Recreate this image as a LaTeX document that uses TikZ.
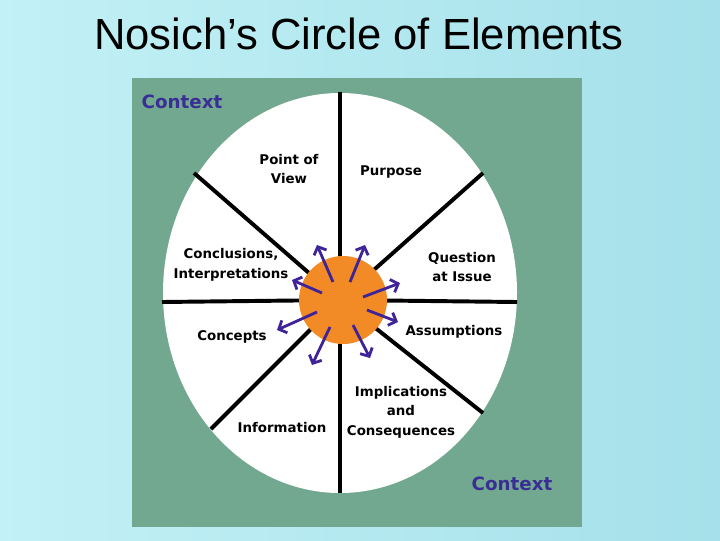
\documentclass[tikz,border=0pt]{standalone}
\usepackage{fontspec}
\setmainfont{DejaVu Sans}
\newfontfamily\titlefont{Liberation Sans}
\usetikzlibrary{arrows.meta}
\definecolor{bgcyan}{HTML}{C2F1F6}
\definecolor{bgcyandark}{HTML}{A6E0EA}
\definecolor{boxgreen}{HTML}{72A88F}
\definecolor{huborange}{HTML}{F28A26}
\definecolor{raypurple}{HTML}{3F2399}
\definecolor{contextblue}{HTML}{3A2E96}
\tikzset{
  spoke/.style={line width=2.8pt, line cap=butt},
  ray/.style={->, line width=2pt, draw=raypurple},
  lbl/.style={font=\fontsize{9.5}{14}\selectfont\bfseries, align=center, inner sep=0pt},
  ctx/.style={font=\fontsize{13}{13}\selectfont\bfseries, text=contextblue, inner sep=0pt},
  hub/.style={circle, fill=huborange, minimum size=2.2cm, inner sep=0pt}
}
\begin{document}
\begin{tikzpicture}[x=0.025cm, y=-0.025cm, line join=round, >={Straight Barb[length=1.6mm, width=3.4mm]}]
	\useasboundingbox (0,0) rectangle (720,540);
	\shade[left color=bgcyan, right color=bgcyandark] (0,0) rectangle (720,540);
	\node[font=\titlefont\fontsize{31}{31}\selectfont, inner sep=0pt] (title) at (359,34) {Nosich’s Circle of Elements};
	% board and wheel
	\fill[boxgreen] (132,78) rectangle (582,527);
	\fill[white] (340,293) ellipse [x radius=177, y radius=200];
	\coordinate (o) at (340,300);
	\foreach \x/\y in {340/92, 483/173, 517/302, 483/413, 340/493, 211/429, 162/302, 194/173}
		\draw[spoke] (o) -- (\x,\y);
	\node[hub] (hub) at (343,300) {};
	\foreach \sx/\sy/\ex/\ey in {333/282/317/245, 350/282/365/245, 363/297/400/283, 367/310/398/322,
		353/325/370/358, 330/327/312/365, 317/312/277/330, 322/293/292/280}
		\draw[ray] (\sx,\sy) -- (\ex,\ey);
	% elements
	\node[lbl] (pov) at (289,169) {Point of\\View};
	\node[lbl] (purpose) at (391,172) {Purpose};
	\node[lbl] (question) at (462,267) {Question\\at Issue};
	\node[lbl] (assume) at (454,332) {Assumptions};
	\node[lbl] (impl) at (401,412) {Implications\\and\\Consequences};
	\node[lbl] (info) at (282,428) {Information};
	\node[lbl] (concepts) at (232,337) {Concepts};
	\node[lbl] (concl) at (231,265) {Conclusions,\\Interpretations};
	\node[ctx] (ctxtop) at (182,102) {Context};
	\node[ctx] (ctxbot) at (512,484) {Context};
\end{tikzpicture}
\end{document}
